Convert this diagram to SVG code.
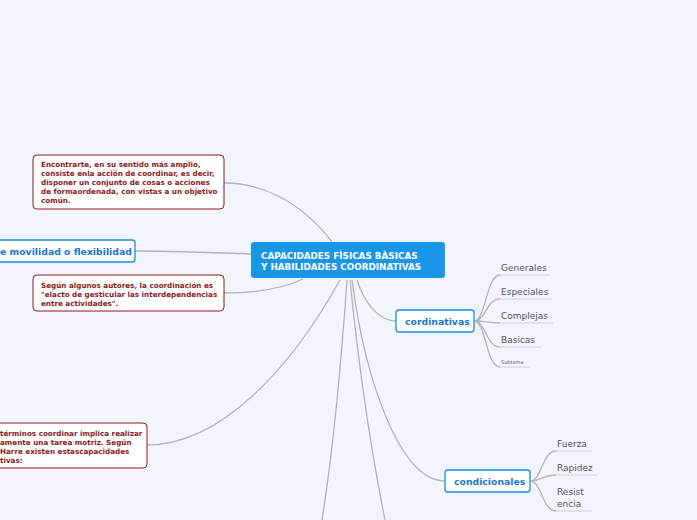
<svg xmlns="http://www.w3.org/2000/svg" width="697" height="520" viewBox="0 0 697 520">
<style>
.c{fill:none;stroke:#b4b4b8;stroke-width:1.3}
.note{fill:#fff;stroke:#8b1a1a;stroke-width:1}
.nt{font-family:Verdana,"DejaVu Sans",sans-serif;font-size:7.2px;font-weight:bold;fill:#8b1a1a}
.bn{fill:#fff;stroke:#1a8ce6;stroke-width:1.3}
.bt{font-family:Verdana,"DejaVu Sans",sans-serif;font-size:9.3px;font-weight:bold;fill:#1a75d1}
.st{font-family:Verdana,"DejaVu Sans",sans-serif;font-size:9px;fill:#555}
.ul{fill:none;stroke:#d0d0d6;stroke-width:1}
</style>
<rect width="697" height="520" fill="#f2f5fd"/>
<g id="connectors">
<path class="c" d="M332,242 C300,200 260,183 224,183"/>
<path class="c" d="M251,254 C200,252 170,251 135,251"/>
<path class="c" d="M303,279 C280,290 250,293 224,293"/>
<path class="c" d="M340,280 C290,370 220,445 147,445"/>
<path class="c" d="M357,280 C365,305 380,321 396,321"/>
<path class="c" d="M352,280 C365,380 400,481 445,481"/>
<path class="c" d="M347,280 C340,380 330,470 322,520"/>
<path class="c" d="M350,280 C360,380 375,470 385,520"/>
<path class="c" d="M474,321 C486,321 486,275 500,275 M474,321 C486,321 486,299 500,299 M474,321 C486,321 487,323 500,323 M474,321 C486,321 486,347 500,347 M474,321 C486,321 486,367 500,367"/>
<path class="c" d="M530,481 C542,481 542,451 556,451 M530,481 C542,481 542,475 556,475 M530,481 C542,481 542,511 556,511"/>
</g>
<g id="center"><rect x="251" y="242" width="194" height="36" rx="3" fill="#1a96e6"/>
<text font-family="Verdana,'DejaVu Sans',sans-serif" font-size="8.8" font-weight="bold" fill="#fff"><tspan x="261" y="259">CAPACIDADES FÌSICAS BÀSICAS</tspan><tspan x="261" y="270">Y HABILIDADES COORDINATIVAS</tspan></text></g>
<g id="note1"><rect class="note" x="33" y="155" width="191" height="54" rx="4"/>
<text class="nt"><tspan x="41" y="167">Encontrarte, en su sentido más amplio,</tspan><tspan x="41" y="176">consiste enla acción de coordinar, es decir,</tspan><tspan x="41" y="185">disponer un conjunto de cosas o acciones</tspan><tspan x="41" y="194">de formaordenada, con vistas a un objetivo</tspan><tspan x="41" y="203">común.</tspan></text></g>
<g id="movilidad"><rect class="bn" x="-8" y="240" width="143" height="22" rx="3"/>
<text class="bt" x="0" y="255">e movilidad o flexibilidad</text></g>
<g id="note2"><rect class="note" x="33" y="275" width="191" height="36" rx="4"/>
<text class="nt"><tspan x="41" y="288">Según algunos autores, la coordinación es</tspan><tspan x="41" y="297">"elacto de gesticular las interdependencias</tspan><tspan x="41" y="306">entre actividades".</tspan></text></g>
<g id="note3"><rect class="note" x="-8" y="423" width="155" height="45" rx="4"/>
<text class="nt"><tspan x="0" y="436">términos coordinar implica realizar</tspan><tspan x="0" y="445">amente una tarea motriz. Según</tspan><tspan x="0" y="454">Harre existen estascapacidades</tspan><tspan x="0" y="463">tivas:</tspan></text></g>
<g id="cordinativas"><rect class="bn" x="396" y="310" width="78" height="22" rx="3"/>
<text class="bt" x="405" y="325">cordinativas</text></g>
<g id="condicionales"><rect class="bn" x="445" y="470" width="85" height="22" rx="3"/>
<text class="bt" x="454" y="485">condicionales</text></g>
<g id="subs">
<text class="st" x="501" y="271">Generales</text><path class="ul" d="M500,275 H550"/>
<text class="st" x="501" y="295">Especiales</text><path class="ul" d="M500,299 H552"/>
<text class="st" x="501" y="319">Complejas</text><path class="ul" d="M500,323 H553"/>
<text class="st" x="501" y="343">Basicas</text><path class="ul" d="M500,347 H541"/>
<text class="st" x="501" y="364" style="font-size:5px">Subtema</text><path class="ul" d="M500,367 H530"/>
<text class="st" x="557" y="447">Fuerza</text><path class="ul" d="M556,451 H592"/>
<text class="st" x="557" y="471">Rapidez</text><path class="ul" d="M556,475 H597"/>
<text class="st"><tspan x="557" y="495">Resist</tspan><tspan x="557" y="507">encia</tspan></text><path class="ul" d="M556,511 H592"/>
</g>
</svg>
